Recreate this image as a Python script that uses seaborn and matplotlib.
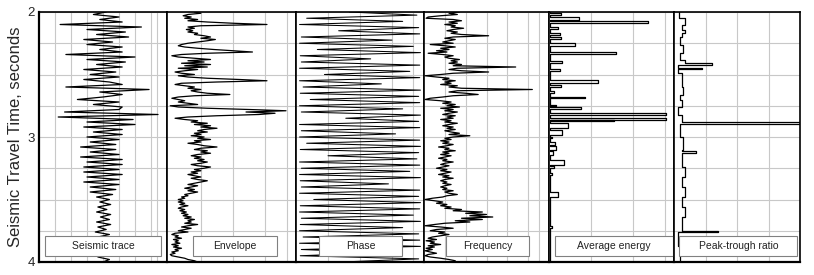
import numpy as np
import matplotlib
matplotlib.use("Agg")
import matplotlib.pyplot as plt
from matplotlib.patches import Rectangle
import seaborn as sns

sns.set_theme(style="white")
plt.rcParams["font.family"] = ["Liberation Sans", "DejaVu Sans"]

# Datos (tiempo 2.0 - 4.0 s)
seismic = [
    0.05, -0.15, 0.25, -0.05, 0.30, -0.67, 0.60, -0.25, 0.35, -0.10,
    0.40, -0.30, 0.15, -0.25, 0.30, -0.05, 0.30, -0.58, 0.50, -0.25,
    0.35, -0.10, 0.30, -0.30, 0.20, -0.20, 0.25, -0.30, 0.10, 0.30,
    -0.58, 0.72, -0.05, 0.30, 0.00, -0.40, 0.25, -0.15, 0.30, 0.25,
    -0.60, 0.86, -0.70, 0.47, -0.25, 0.50, -0.30, 0.30, -0.15, 0.30,
    -0.25, 0.25, -0.20, 0.20, -0.35, 0.20, -0.20, 0.25, -0.35, 0.30,
    -0.25, 0.30, -0.30, 0.25, -0.30, 0.30, -0.25, 0.25, -0.30, 0.25,
    -0.20, 0.20, -0.20, 0.15, -0.10, 0.10, -0.05, 0.12, -0.08, 0.06,
    -0.10, 0.12, -0.04, 0.10, -0.10, 0.12, -0.08, 0.05, -0.12, 0.10,
    -0.08, 0.10, -0.10, 0.08, -0.10, 0.10, -0.08, 0.10, -0.08, 0.10,
    0.00,
]

envelope = [
    0.8, 1.0, 0.6, 0.45, 0.7, 0.5, 0.9, 0.6, 1.2, 2.0,
    3.05, 1.0, 0.6, 0.8, 0.55, 0.75, 0.6, 0.9, 0.8, 1.1,
    1.3, 1.0, 1.45, 1.2, 0.9, 0.6, 0.4, 0.3, 0.5, 0.9,
    1.4, 2.0, 2.6, 1.2, 0.4, 0.1, 0.3, 0.8, 1.3, 0.6,
    1.1, 0.4, 1.3, 0.5, 1.2, 0.3, 0.9, 0.5, 0.2, 0.4,
    0.8, 0.3, 0.6, 1.2, 2.2, 3.05, 1.5, 0.4, 0.2, 0.5,
    0.8, 0.6, 1.0, 0.7, 0.9, 1.2, 1.9, 0.8, 0.3, 0.1,
    0.3, 0.5, 0.3, 0.6, 0.9, 0.05, 0.3, 1.2, 2.5, 3.64,
    2.4, 3.3, 2.8, 1.5, 0.6, 0.2, 0.5, 0.9, 0.7, 1.2,
    0.8, 1.3, 1.0, 1.5, 1.1, 0.9, 1.2, 0.8, 1.0, 0.7,
    1.1, 0.9, 1.3, 0.8, 1.0, 0.6, 0.9, 1.1, 1.5, 1.0,
    0.8, 1.2, 1.0, 1.3, 0.9, 0.7, 1.0, 0.8, 1.1, 0.9,
    1.2, 1.0, 0.7, 0.9, 1.3, 1.1, 0.8, 1.0, 0.7, 0.9,
    0.6, 0.8, 1.0, 0.7, 0.9, 1.2, 1.0, 0.8, 0.6, 0.9,
    0.7, 0.5, 0.8, 0.6, 0.9, 0.7, 0.5, 0.6, 0.4, 0.5,
    0.3, 0.45, 0.3, 0.5, 0.35, 0.6, 0.4, 0.3, 0.5, 0.35,
    0.55, 0.4, 0.6, 0.45, 0.7, 0.5, 0.8, 0.6, 0.7, 0.5,
    0.9, 0.6, 0.4, 0.7, 0.5, 0.3, 0.6, 0.2, 0.1, 0.3,
    0.2, 0.4, 0.15, 0.3, 0.2, 0.35, 0.1, 0.3, 0.15, 0.4,
    0.2, 0.3, 0.1, 0.2, 0.05, 0.1, 0.3, 0.5, 0.6, 0.8,
    0.9,
]

phase = [
    -30, 160, -150, 120, -170, 165, -60, 168, -165, 90,
    -170, 150, -120, 170, -168, 30, -165, 168, -170, 140,
    -100, 168, -170, 60, -160, 170, -168, 165, -140, 168,
    -170, 120, -165, 170, -40, 165, -170, 168, -165, 100,
    -170, 168, -150, 170, -168, 165, -90, 160, -170, 168,
    -165, 140, -170, 170, -168, 80, -165, 168, -170, 165,
    -130, 170, -168, 168, -170, 150, -165, 170, -168, 120,
    -170, 165, -160, 168, -170, 170, -165, 60, -168, 165,
    -50,
]

frequency = [
    17, 12, 16, 8, 2, 1, 14, 18, 12, 16,
    10, 15, 13, 19, 14, 11, 16, 13, 18, 31,
    14, 10, 15, 12, 9, 14, 3, 10, 15, 8,
    12, 6, 11, 2, 9, 14, 10, 12, 17, 13,
    16, 12, 18, 14, 44, 16, 12, 18, 31, 14,
    8, 0.5, 6, 12, 9, 15, 10, 13, 8, 16,
    12, 18, 52, 16, 12, 20, 26, 14, 9, 3,
    0.5, 8, 13, 9, 15, 11, 17, 8, 14, 10,
    16, 12, 9, 15, 11, 14, 8, 13, 10, 16,
    12, 9, 14, 11, 15, 10, 13, 17, 12, 22,
    14, 10, 13, 8, 12, 9, 14, 11, 7, 12,
    10, 15, 9, 12, 8, 13, 10, 7, 11, 9,
    14, 10, 8, 12, 9, 6, 11, 8, 13, 10,
    7, 12, 9, 14, 10, 8, 11, 9, 13, 10,
    8, 11, 9, 14, 10, 12, 16, 11, 9, 4,
    0.5, 5, 9, 6, 11, 8, 13, 10, 18, 14,
    28, 20, 30, 22, 33, 18, 28, 15, 22, 10,
    5, 0.5, 8, 14, 6, 3, 10, 7, 12, 8,
    4, 2, 6, 1, 5, 3, 8, 2, 5, 1,
    4, 0.5, 3, 6, 2, 0.5, 3, 8, 12, 15,
    14,
]

energy_start = [2.010, 2.040, 2.070, 2.120, 2.165, 2.200, 2.250, 2.320, 2.390, 2.455,
                2.540, 2.585, 2.635, 2.680, 2.745, 2.760, 2.810, 2.850, 2.865, 2.885,
                2.940, 3.000, 3.040, 3.075, 3.115, 3.180, 3.235, 3.290, 3.440, 3.715]
energy_end = [2.025, 2.065, 2.090, 2.135, 2.180, 2.215, 2.275, 2.335, 2.405, 2.470,
              2.565, 2.600, 2.650, 2.690, 2.755, 2.775, 2.820, 2.860, 2.875, 2.930,
              2.980, 3.010, 3.060, 3.100, 3.140, 3.220, 3.250, 3.300, 3.480, 3.725]
energy_value = [0.27, 0.70, 2.37, 0.20, 0.25, 0.28, 0.60, 1.60, 0.30, 0.25,
                1.16, 0.28, 0.10, 0.85, 0.15, 0.75, 2.80, 2.80, 1.55, 0.45,
                0.30, 0.05, 0.12, 0.16, 0.08, 0.34, 0.10, 0.05, 0.19, 0.06]

ratio_edges = [2.00, 2.05, 2.10, 2.14, 2.17, 2.20, 2.26, 2.33, 2.38, 2.41,
               2.422, 2.45, 2.458, 2.485, 2.60, 2.665, 2.70, 2.76, 2.82, 2.88,
               2.893, 3.00, 3.10, 3.115, 3.13, 3.24, 3.32, 3.40, 3.48, 3.56,
               3.64, 3.75, 3.756, 3.87, 4.00]
ratio_value = [0.17, 0.35, 0.24, 0.35, 0.24, 0.19, 0.30, 0.19, 0.35, 1.20,
               0.14, 0.88, 0.14, 0.24, 0.30, 0.19, 0.24, 0.14, 0.24, 4.20,
               0.19, 0.30, 0.24, 0.70, 0.24, 0.35, 0.24, 0.35, 0.24, 0.35,
               0.24, 1.40, 0.14, 0.19]

titulos = ["Seismic trace", "Envelope", "Phase", "Frequency",
           "Average energy", "Peak-trough ratio"]

# Trazas escalonadas
e_t, e_v = [2.0], [0.0]
for s, e, v in zip(energy_start, energy_end, energy_value):
    e_t += [s, s, e, e]
    e_v += [0.0, v, v, 0.0]
e_t.append(4.0)
e_v.append(0.0)

r_t, r_v = [], []
for i, v in enumerate(ratio_value):
    r_t += [ratio_edges[i], ratio_edges[i + 1]]
    r_v += [v, v]

series = [
    (seismic, np.linspace(2, 4, len(seismic))),
    (envelope, np.linspace(2, 4, len(envelope))),
    (phase, np.linspace(2, 4, len(phase))),
    (frequency, np.linspace(2, 4, len(frequency))),
    (e_v, e_t),
    (r_v, r_t),
]
grosor = [0.9, 0.9, 0.75, 0.9, 0.9, 0.9]

# Layout en pixeles (814 x 275)
W, H = 814, 275
limites = [(39, 167), (167, 296), (296, 424), (424, 549), (549, 674), (674, 800)]
xlims = [(-1.0, 1.0), (-0.05, 3.95), (-180, 180), (0, 60), (-0.02, 3.0), (0, 4)]
xgrid = [[-0.75, -0.5, -0.25, 0, 0.25, 0.5, 0.75, 0.85],
         [1, 2, 3, 3.67],
         [-90, 0, 90, 150],
         [10, 20, 30, 40, 50, 55],
         [1, 2, 2.78],
         [1, 2, 3]]
cajas = [(0.05, 0.95), (0.20, 0.85), (0.18, 0.83), (0.176, 0.84), (0.05, 0.99), (0.04, 0.98)]

fig = plt.figure(figsize=(W / 100, H / 100), dpi=100)

for i, (x0, x1) in enumerate(limites):
    ax = fig.add_axes([x0 / W, 13 / H, (x1 - x0) / W, 250 / H])
    vals, tiempos = series[i]
    sns.lineplot(x=vals, y=tiempos, sort=False, estimator=None,
                 color="black", linewidth=grosor[i], ax=ax)
    ax.set_xlim(*xlims[i])
    ax.set_ylim(4, 2)
    ax.set_xticks(xgrid[i])
    ax.set_yticks([2, 3, 4])
    ax.set_yticks(np.arange(2, 4.01, 0.25), minor=True)
    ax.grid(True, which="both", color="#c8c8c8", linewidth=0.8)
    ax.set_axisbelow(True)
    ax.tick_params(which="both", length=0, labelbottom=False)
    ax.set_xlabel("")
    ax.set_ylabel("")
    for sp in ax.spines.values():
        sp.set_color("black")
        sp.set_linewidth(1.2)
    ax.spines["bottom"].set_linewidth(1.6)
    if i == 0:
        ax.tick_params(axis="y", labelsize=9.5, pad=3)
        ax.set_ylabel("Seismic Travel Time, seconds", fontsize=12, labelpad=3)
        ax.spines["left"].set_linewidth(1.6)
    else:
        ax.tick_params(axis="y", labelleft=False)

    bx0, bx1 = cajas[i]
    ax.add_patch(Rectangle((bx0, 0.024), bx1 - bx0, 0.08, transform=ax.transAxes,
                           facecolor="white", edgecolor="#808080", linewidth=0.8,
                           zorder=5))
    ax.text((bx0 + bx1) / 2, 0.064, titulos[i], transform=ax.transAxes,
            ha="center", va="center", fontsize=7.5, color="#222222", zorder=6)

plt.savefig("out.png", dpi=100)
plt.close()
